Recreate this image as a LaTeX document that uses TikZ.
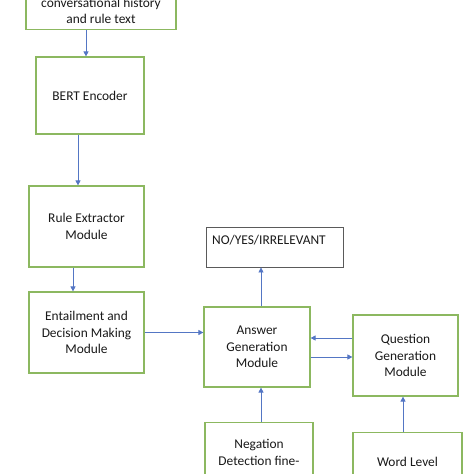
\documentclass[tikz,border=0pt]{standalone}
\usepackage{fontspec}
\setmainfont{Carlito}
\usetikzlibrary{arrows.meta}
\definecolor{gbord}{RGB}{140,184,96}
\definecolor{arrblue}{RGB}{84,118,196}
\definecolor{kbord}{RGB}{90,90,90}
\tikzset{
  gbox/.style={draw=gbord, line width=1.2pt, fill=white, align=center, inner sep=0pt},
  kbox/.style={draw=kbord, line width=0.9pt, fill=white, inner sep=0pt},
  txt/.style={align=center, inner sep=0pt},
  arr/.style={draw=arrblue, line width=0.8pt, -{Triangle[length=5pt,width=5pt]}},
}
\begin{document}
\begin{tikzpicture}[x=1pt,y=-1pt, every node/.style={font=\fontsize{13.4}{16.5}\selectfont, text=black!90}]
\clip (0,0) rectangle (474,474);
\fill[white] (0,0) rectangle (474,474);
% boxes
\node[gbox, minimum width=150pt, minimum height=70pt, anchor=south] (in) at (101,30) {};
\node[txt] (intext) at (101,11) {conversational history\\and rule text};
\node[gbox, minimum width=108pt, minimum height=77pt] (bert) at (90,95.5) {BERT Encoder};
\node[gbox, minimum width=115pt, minimum height=81pt] (rule) at (86.5,226.5) {Rule Extractor\\Module};
\node[gbox, minimum width=115pt, minimum height=81pt] (ent) at (86.5,332.5) {Entailment and\\Decision Making\\Module};
\node[gbox, minimum width=106pt, minimum height=80pt] (ans) at (257,347) {Answer\\Generation\\Module};
\node[kbox, minimum width=137pt, minimum height=40pt] (out) at (274.5,247) {};
\node[txt, anchor=west] (outtext) at (212,240) {NO/YES/IRRELEVANT};
\node[gbox, minimum width=105pt, minimum height=81pt] (q) at (405.5,355.5) {Question\\Generation\\Module};
\node[gbox, minimum width=108pt, minimum height=80pt, anchor=north] (neg) at (259,422) {};
\node[txt] (negtext) at (259,452.5) {Negation\\Detection fine-};
\node[gbox, minimum width=109pt, minimum height=80pt, anchor=north] (word) at (407.5,432) {};
\node[txt] (wordtext) at (407.5,462) {Word Level};
% arrows
\draw[arr] ([xshift=-15pt]in.south) -- ([xshift=-4pt]bert.north);
\draw[arr] ([xshift=-12pt]bert.south) -- ([xshift=-8.5pt]rule.north);
\draw[arr] ([xshift=-13.5pt]rule.south) -- ([xshift=-13.5pt]ent.north);
\draw[arr] (ent.east) -- (ent.east -| ans.west);
\draw[arr] ([xshift=4pt]ans.north) -- ([xshift=-13.5pt]out.south);
\draw[arr] ([yshift=17.5pt]q.west) -- ([yshift=17.5pt]q.west -| ans.east);
\draw[arr] ([yshift=-1.5pt]q.west -| ans.east) -- ([yshift=-1.5pt]q.west);
\draw[arr] ([xshift=2pt]neg.north) -- ([xshift=4pt]ans.south);
\draw[arr] ([xshift=-4.5pt]word.north) -- ([xshift=-2.5pt]q.south);
\end{tikzpicture}
\end{document}
